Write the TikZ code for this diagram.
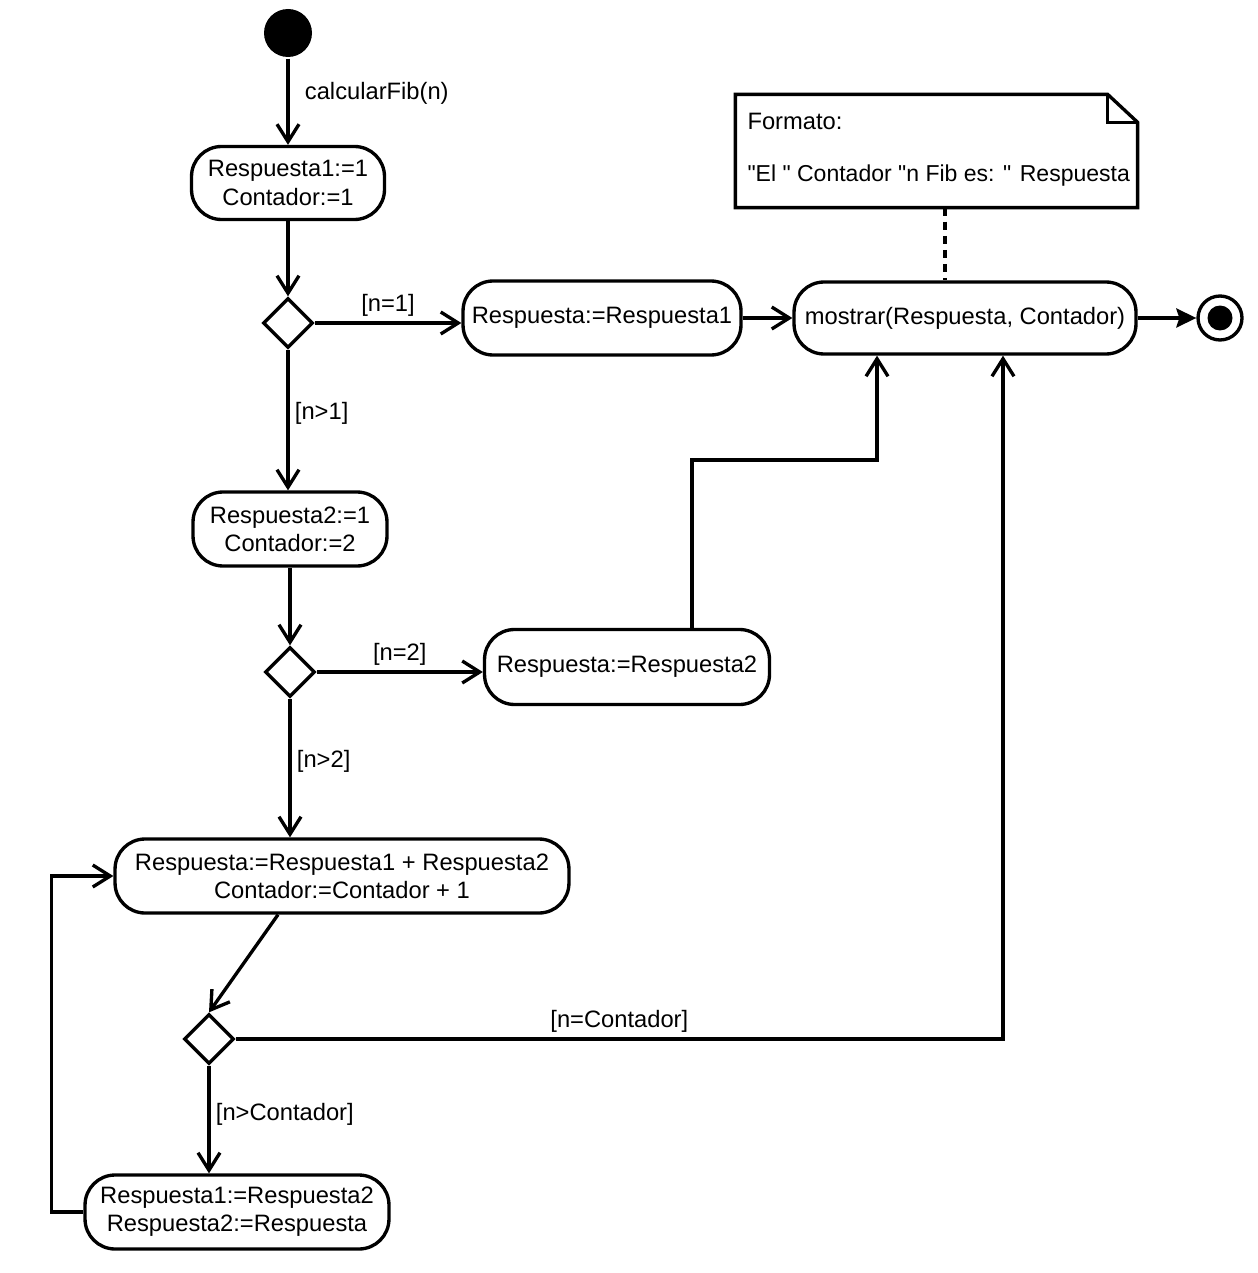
\documentclass[tikz,border=0pt]{standalone}
\usepackage{fontspec}
\setmainfont{Liberation Sans}
\usetikzlibrary{shapes.geometric}
\usetikzlibrary{positioning}
\usetikzlibrary{arrows.meta}

\begin{document}
\begin{tikzpicture}[x=0.02cm, y=-0.02cm, line width=1.9pt,
        font=\fontsize{13.5}{16}\selectfont,
        activity/.style={draw, rectangle, rounded corners=0.6cm, align=center, inner sep=2pt},
        decision/.style={draw, diamond, minimum width=1cm, minimum height=1cm, inner sep=0pt},
        flow/.style={-{Straight Barb[length=0.35cm,width=0.44cm]}},
        guard/.style={inner sep=3pt}]
            \useasboundingbox (0,0) rectangle (1257,1273);

            % Start and end states
            \node[circle, fill=black, minimum size=0.96cm, inner sep=0pt] (ini) at (288,33) {};
            \node[circle, draw, minimum size=0.88cm, inner sep=0pt] (fin) at (1220,318) {};
            \node[circle, fill=black, minimum size=0.5cm, inner sep=0pt] (finb) at (fin) {};

            % Activities
            \node[activity, minimum width=3.86cm, minimum height=1.46cm] (a1) at (288,183) {Respuesta1:=1\\Contador:=1};
            \node[activity, minimum width=5.56cm, minimum height=1.48cm] (r1) at (602,318) {Respuesta:=Respuesta1};
            \node[activity, minimum width=6.84cm, minimum height=1.44cm] (mostrar) at (965,318) {mostrar(Respuesta, Contador)};
            \node[activity, minimum width=3.88cm, minimum height=1.48cm] (a2) at (290,529) {Respuesta2:=1\\Contador:=2};
            \node[activity, minimum width=5.7cm, minimum height=1.5cm] (r2) at (627,667) {Respuesta:=Respuesta2};
            \node[activity, minimum width=9.08cm, minimum height=1.48cm] (a3) at (342,876) {Respuesta:=Respuesta1 + Respuesta2\\Contador:=Contador + 1};
            \node[activity, minimum width=6.08cm, minimum height=1.48cm] (a4) at (237,1212) {Respuesta1:=Respuesta2\\Respuesta2:=Respuesta};

            % Decisions
            \node[decision] (d1) at (288,323) {};
            \node[decision] (d2) at (290,672) {};
            \node[decision] (d3) at (209,1039) {};

            % Note
            \node[minimum width=7.98cm, minimum height=2.2cm] (nota) at (936.5,151) {};
            \draw (nota.north west) -- ([xshift=-0.6cm]nota.north east) -- ([yshift=-0.56cm]nota.north east) -- (nota.south east) -- (nota.south west) -- cycle;
            \draw ([xshift=-0.6cm]nota.north east) |- ([yshift=-0.56cm]nota.north east);
            \node[anchor=west] (fmt) at (740,121) {Formato:};
            \node[anchor=west, font=\fontsize{13.1}{16}\selectfont] (fmtb) at (740,176) {\textquotedbl El \textquotedbl{} Contador \textquotedbl n Fib es: \textquotedbl{} Respuesta};
            \draw[dash pattern=on 4.5pt off 3.5pt] ([xshift=0.17cm]nota.south) -- ([xshift=0.17cm]nota.south |- mostrar.north);

            % Flows
            \draw[flow] (ini) -- (a1) node[guard, pos=0.4, right=0.2cm] {calcularFib(n)};
            \draw[flow] (a1) -- (d1);
            \draw[flow] (d1.east) -- (d1.east -| r1.west) node[guard, midway, above] {[n=1]};
            \draw[flow] (d1.south) -- (d1.south |- a2.north) node[guard, pos=0.45, right] {[n>1]};
            \draw[flow] (r1.east) -- (mostrar.west);
            \draw[-{Stealth[length=0.4cm,width=0.38cm,inset=0.06cm]}] (mostrar.east) -- (fin.west);
            \draw[flow] (a2) -- (d2);
            \draw[flow] (d2.east) -- (d2.east -| r2.west) node[guard, midway, above] {[n=2]};
            \draw[flow] (d2.south) -- (d2.south |- a3.north) node[guard, pos=0.45, right] {[n>2]};
            \draw[flow] ([xshift=1.3cm]r2.north) -- ++(0,-168) -| ([xshift=-1.76cm]mostrar.south);
            \draw[flow] ([xshift=-1.28cm]a3.south) -- (d3.north);
            \draw[flow] (d3.east) -| ([xshift=0.76cm]mostrar.south) node[guard, pos=0.25, above] {[n=Contador]};
            \draw[flow] (d3.south) -- (d3.south |- a4.north) node[guard, pos=0.45, right] {[n>Contador]};
            \draw[flow] (a4.west) -- ++(-32,0) |- (a3.west);
        \end{tikzpicture}
\end{document}
